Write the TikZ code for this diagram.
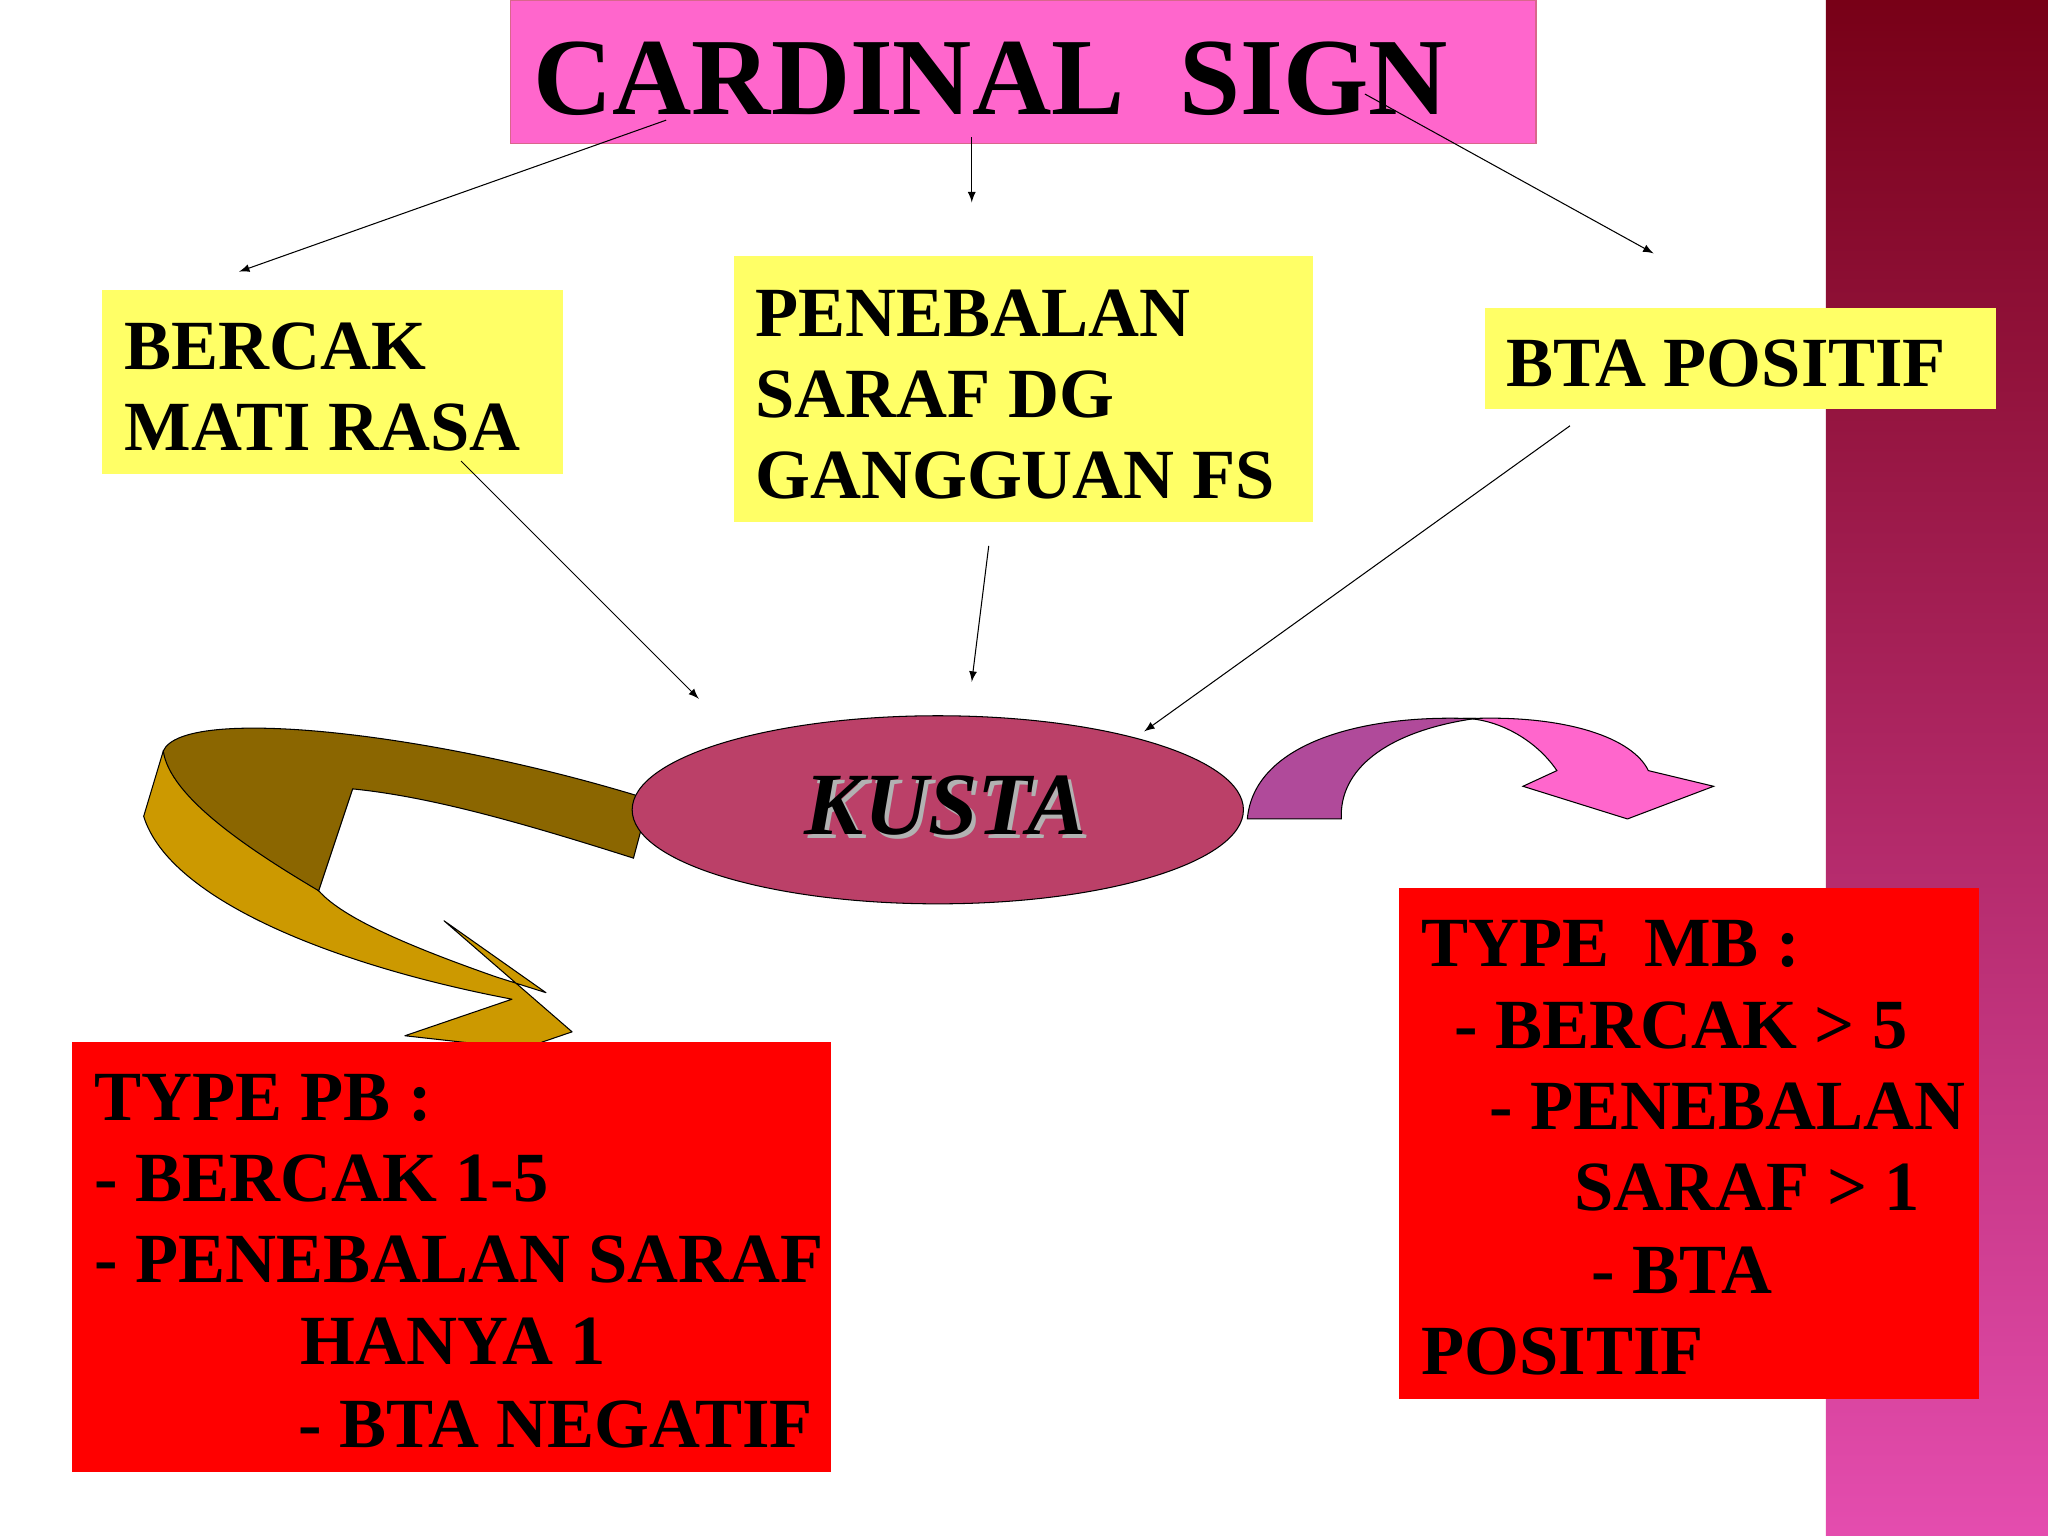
\documentclass[tikz,border=0pt]{standalone}
\usepackage{fontspec}
\setmainfont{Liberation Serif}
\usetikzlibrary{shapes.geometric}
\definecolor{pinkbox}{HTML}{FF66CC}
\definecolor{yel}{HTML}{FFFF66}
\definecolor{kusta}{HTML}{BB4068}
\definecolor{brownd}{HTML}{8B6600}
\definecolor{gold}{HTML}{CC9900}
\definecolor{arrpink}{HTML}{FF66CC}
\definecolor{arrpurp}{HTML}{B04A9A}
\begin{document}
\begin{tikzpicture}[x=0.5pt,y=-0.5pt,
  txt/.style={anchor=base west,inner sep=0,font=\bfseries\fontsize{27}{31}\selectfont},
  arr/.style={-latex,thin,black}]
\useasboundingbox (0,0) rectangle (1568,1176);
\fill[white] (0,0) rectangle (1568,1176);
\shade[top color=black!55!purple!80!red, bottom color=purple!60!magenta!70!white] (1398,0) rectangle (1568,1176);
% boxes
\draw[fill=pinkbox,draw=purple!60] (391,0) rectangle (1176,110);
\node[txt,font=\bfseries\fontsize{42}{46}\selectfont] (title) at (408,88) {CARDINAL\ \ SIGN};
\fill[yel] (78,222) rectangle (431,363);
\fill[yel] (562,196) rectangle (1005,400);
\fill[yel] (1137,236) rectangle (1528,313);
\node[txt] (b1) at (95,283) {BERCAK};
\node[txt] (b2) at (95,345) {MATI RASA};
\node[txt] (p1) at (578,258) {PENEBALAN};
\node[txt] (p2) at (578,320) {SARAF DG};
\node[txt] (p3) at (578,382) {GANGGUAN FS};
\node[txt] (bta) at (1153,296) {BTA POSITIF};
% arrows
\coordinate (a1s) at (510,92); \coordinate (a1e) at (183,208);
\coordinate (a2s) at (744,105); \coordinate (a2e) at (744,155);
\coordinate (a3s) at (1045,72); \coordinate (a3e) at (1266,194);
\coordinate (a4s) at (353,353); \coordinate (a4e) at (535,535);
\coordinate (a5s) at (757,418); \coordinate (a5e) at (744,522);
\coordinate (a6s) at (1202,326); \coordinate (a6e) at (876,560);
\foreach \s/\e in {a1s/a1e,a2s/a2e,a3s/a3e,a4s/a4e,a5s/a5e,a6s/a6e} \draw[arr] (\s) -- (\e);
% left brown arrow
\draw[fill=gold,line join=round] (125,575) -- (110,625) .. controls (130,690) and (260,740) .. (392,765)
  -- (310,793) -- (400,803) -- (438,790) -- (340,705) -- (418,760) -- (380,748)
  .. controls (300,720) and (260,700) .. (244,682) -- cycle;
\draw[fill=brownd] (125,575) .. controls (140,540) and (330,560) .. (497,612) -- (485,657)
  .. controls (400,630) and (330,610) .. (270,604) -- (244,682) .. controls (190,650) and (130,610) .. (125,575) -- cycle;
% ellipse
\node[ellipse,draw,fill=kusta,minimum width=468\pgflinewidth,inner sep=0] (k) at (718,620) {};
\draw[fill=kusta] (718,620) ellipse [x radius=234,y radius=72];
\node[font=\bfseries\itshape\fontsize{34}{36}\selectfont,text=gray!60] at (727,620) {KUSTA};
\node[font=\bfseries\itshape\fontsize{34}{36}\selectfont] (kt) at (724,617) {KUSTA};
% right pink arrow
\draw[fill=arrpurp] (955,627) .. controls (960,570) and (1040,548) .. (1120,550) -- (1130,550)
  .. controls (1060,560) and (1025,590) .. (1027,627) -- cycle;
\draw[fill=arrpink] (1120,550) -- (1130,550) .. controls (1200,548) and (1250,565) .. (1262,590)
  -- (1312,602) -- (1246,627) -- (1166,602) -- (1192,590) .. controls (1175,565) and (1145,550) .. (1120,550) -- cycle;
% red boxes
\fill[red] (55,798) rectangle (636,1127);
\fill[red] (1071,680) rectangle (1515,1071);
\node[txt] (l1) at (72,858) {TYPE PB :};
\node[txt] (l2) at (72,920) {- BERCAK 1-5};
\node[txt] (l3) at (72,982) {- PENEBALAN SARAF};
\node[txt] (l4) at (230,1045) {HANYA 1};
\node[txt] (l5) at (228,1108) {- BTA NEGATIF};
\node[txt] (r1) at (1088,740) {TYPE\ \ MB :};
\node[txt] (r2) at (1113,803) {- BERCAK > 5};
\node[txt] (r3) at (1140,865) {- PENEBALAN};
\node[txt] (r4) at (1205,927) {SARAF > 1};
\node[txt] (r5) at (1218,990) {- BTA};
\node[txt] (r6) at (1088,1052) {POSITIF};
\end{tikzpicture}
\end{document}
